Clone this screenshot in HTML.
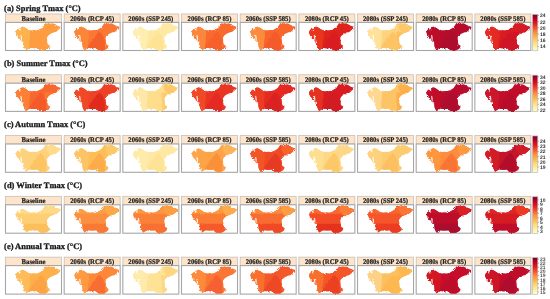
<!DOCTYPE html>
<html><head><meta charset="utf-8"><style>
html,body{margin:0;padding:0;background:#fff;width:550px;height:299px;overflow:hidden}
svg{display:block;text-rendering:geometricPrecision}
.t{font-family:"Liberation Serif","Times New Roman",serif;font-weight:bold;fill:#1a1a1a;stroke:#1a1a1a;stroke-width:0.3}
.h{font-family:"Liberation Serif","Times New Roman",serif;font-weight:bold;fill:#222;text-anchor:middle;stroke:#222;stroke-width:0.22}
.k{font-family:"Liberation Sans",Arial,sans-serif;font-weight:bold;fill:#333}
</style></head><body>
<svg width="550" height="299" viewBox="0 0 550 299">
<defs>
<filter id="rough" x="-5%" y="-5%" width="110%" height="110%"><feTurbulence type="fractalNoise" baseFrequency="0.9" numOctaves="1" seed="3"/><feDisplacementMap in="SourceGraphic" scale="3" xChannelSelector="R" yChannelSelector="G"/></filter>
<clipPath id="m"><polygon points="10.2,18.3 11.0,16.2 12.3,15.1 13.7,14.7 14.8,13.6 16.9,12.7 18.4,13.1 20.1,14.1 22.8,15.9 24.4,16.2 25.8,16.4 28.1,16.2 30.5,16.4 32.8,15.8 35.1,14.7 37.4,13.2 38.9,11.1 40.1,9.1 41.5,9.9 43.3,9.1 45.0,9.9 47.3,9.4 49.7,10.6 52.0,11.9 54.9,12.9 55.2,13.7 53.1,15.8 51.4,17.2 50.2,18.2 48.5,18.3 45.6,19.6 43.3,21.1 42.0,22.8 41.4,23.7 41.8,26.8 42.1,30.3 44.4,31.8 43.8,33.8 42.7,35.0 39.8,36.3 34.8,36.3 33.3,35.5 32.3,34.0 29.8,34.2 26.5,34.2 24.3,33.8 22.0,35.2 20.3,36.2 19.4,34.7 18.4,32.5 18.2,29.9 18.0,27.3 16.3,27.6 15.2,26.2 13.5,23.8 11.3,21.5 10.9,20.5 10.5,19.4"/></clipPath>
<linearGradient id="g" x1="0" y1="1" x2="0" y2="0">
<stop offset="0" stop-color="#FFFFCC"/><stop offset="0.125" stop-color="#FFEDA0"/><stop offset="0.25" stop-color="#FED976"/>
<stop offset="0.375" stop-color="#FEB24C"/><stop offset="0.5" stop-color="#FD8D3C"/><stop offset="0.625" stop-color="#FC4E2A"/>
<stop offset="0.75" stop-color="#E31A1C"/><stop offset="0.875" stop-color="#BD0026"/><stop offset="1" stop-color="#800026"/>
</linearGradient>
</defs>

<text class="t" x="4.1" y="10.50" font-size="8.45">(a) Spring Tmax (°C)</text>
<g transform="translate(5.50,13.95)">
<rect x="0" y="0" width="56.00" height="8.45" fill="#FDE4CA" stroke="#c6c0b8" stroke-width="0.8"/>
<rect x="0" y="8.45" width="56.00" height="28.10" fill="#fff" stroke="#a6a6a6" stroke-width="1.1"/>
<text class="h" x="28.00" y="6.95" font-size="7.1" textLength="23.82" lengthAdjust="spacingAndGlyphs">Baseline</text>
<g filter="url(#rough)"><g clip-path="url(#m)"><rect x="0" y="0" width="56.0" height="36.55" fill="#FD9C40"/><polygon points="0.0,0.0 24.5,0.0 24.5,20.0 23.0,40.0 0.0,40.0" fill="#FDB24E"/><polygon points="14.9,21.3 15.9,20.9 16.5,23.7 16.4,27.0 15.7,27.2 15.2,24.3" fill="#fff" fill-opacity="0.85"/><polygon points="13.0,14.0 14.8,13.8 15.0,15.8 13.6,16.4" fill="#fff"/></g></g>
</g>
<g transform="translate(64.17,13.95)">
<rect x="0" y="0" width="56.00" height="8.45" fill="#FDE4CA" stroke="#c6c0b8" stroke-width="0.8"/>
<rect x="0" y="8.45" width="56.00" height="28.10" fill="#fff" stroke="#a6a6a6" stroke-width="1.1"/>
<text class="h" x="28.00" y="6.95" font-size="7.1" textLength="43.92" lengthAdjust="spacingAndGlyphs">2060s (RCP 45)</text>
<g filter="url(#rough)"><g clip-path="url(#m)"><rect x="0" y="0" width="56.0" height="36.55" fill="#FA7834"/><polygon points="0.0,0.0 24.5,0.0 24.5,20.0 23.0,40.0 0.0,40.0" fill="#FB8638"/><polygon points="34.5,18.0 36.5,18.5 38.5,21.0 40.5,26.0 41.0,38.0 23.0,38.0 23.5,33.0 28.5,25.5" fill="#F3602C"/><polygon points="14.9,21.3 15.9,20.9 16.5,23.7 16.4,27.0 15.7,27.2 15.2,24.3" fill="#fff" fill-opacity="0.85"/><polygon points="13.0,14.0 14.8,13.8 15.0,15.8 13.6,16.4" fill="#fff"/></g></g>
</g>
<g transform="translate(122.84,13.95)">
<rect x="0" y="0" width="56.00" height="8.45" fill="#FDE4CA" stroke="#c6c0b8" stroke-width="0.8"/>
<rect x="0" y="8.45" width="56.00" height="28.10" fill="#fff" stroke="#a6a6a6" stroke-width="1.1"/>
<text class="h" x="28.00" y="6.95" font-size="7.1" textLength="45.05" lengthAdjust="spacingAndGlyphs">2060s (SSP 245)</text>
<g filter="url(#rough)"><g clip-path="url(#m)"><rect x="0" y="0" width="56.0" height="36.55" fill="#FEE9A2"/><polygon points="0.0,0.0 24.5,0.0 24.5,20.0 23.0,40.0 0.0,40.0" fill="#FEEEB2"/><polygon points="34.5,18.0 36.5,18.5 38.5,21.0 40.5,26.0 41.0,38.0 23.0,38.0 23.5,33.0 28.5,25.5" fill="#FEE394"/><polygon points="14.9,21.3 15.9,20.9 16.5,23.7 16.4,27.0 15.7,27.2 15.2,24.3" fill="#fff" fill-opacity="0.85"/><polygon points="13.0,14.0 14.8,13.8 15.0,15.8 13.6,16.4" fill="#fff"/></g></g>
</g>
<g transform="translate(181.51,13.95)">
<rect x="0" y="0" width="56.00" height="8.45" fill="#FDE4CA" stroke="#c6c0b8" stroke-width="0.8"/>
<rect x="0" y="8.45" width="56.00" height="28.10" fill="#fff" stroke="#a6a6a6" stroke-width="1.1"/>
<text class="h" x="28.00" y="6.95" font-size="7.1" textLength="43.92" lengthAdjust="spacingAndGlyphs">2060s (RCP 85)</text>
<g filter="url(#rough)"><g clip-path="url(#m)"><rect x="0" y="0" width="56.0" height="36.55" fill="#F96A2E"/><polygon points="0.0,0.0 24.5,0.0 24.5,20.0 23.0,40.0 0.0,40.0" fill="#FC863A"/><polygon points="34.5,18.0 36.5,18.5 38.5,21.0 40.5,26.0 41.0,38.0 23.0,38.0 23.5,33.0 28.5,25.5" fill="#F6602C"/><polygon points="14.9,21.3 15.9,20.9 16.5,23.7 16.4,27.0 15.7,27.2 15.2,24.3" fill="#fff" fill-opacity="0.85"/><polygon points="13.0,14.0 14.8,13.8 15.0,15.8 13.6,16.4" fill="#fff"/></g></g>
</g>
<g transform="translate(240.18,13.95)">
<rect x="0" y="0" width="56.00" height="8.45" fill="#FDE4CA" stroke="#c6c0b8" stroke-width="0.8"/>
<rect x="0" y="8.45" width="56.00" height="28.10" fill="#fff" stroke="#a6a6a6" stroke-width="1.1"/>
<text class="h" x="28.00" y="6.95" font-size="7.1" textLength="45.05" lengthAdjust="spacingAndGlyphs">2060s (SSP 585)</text>
<g filter="url(#rough)"><g clip-path="url(#m)"><rect x="0" y="0" width="56.0" height="36.55" fill="#F8662E"/><polygon points="0.0,0.0 24.5,0.0 24.5,20.0 23.0,40.0 0.0,40.0" fill="#FC8C3C"/><polygon points="34.5,18.0 36.5,18.5 38.5,21.0 40.5,26.0 41.0,38.0 23.0,38.0 23.5,33.0 28.5,25.5" fill="#F45A2A"/><polygon points="14.9,21.3 15.9,20.9 16.5,23.7 16.4,27.0 15.7,27.2 15.2,24.3" fill="#fff" fill-opacity="0.85"/><polygon points="13.0,14.0 14.8,13.8 15.0,15.8 13.6,16.4" fill="#fff"/></g></g>
</g>
<g transform="translate(298.85,13.95)">
<rect x="0" y="0" width="56.00" height="8.45" fill="#FDE4CA" stroke="#c6c0b8" stroke-width="0.8"/>
<rect x="0" y="8.45" width="56.00" height="28.10" fill="#fff" stroke="#a6a6a6" stroke-width="1.1"/>
<text class="h" x="28.00" y="6.95" font-size="7.1" textLength="43.92" lengthAdjust="spacingAndGlyphs">2080s (RCP 45)</text>
<g filter="url(#rough)"><g clip-path="url(#m)"><rect x="0" y="0" width="56.0" height="36.55" fill="#E0241E"/><polygon points="0.0,0.0 24.5,0.0 24.5,20.0 23.0,40.0 0.0,40.0" fill="#E8361F"/><polygon points="34.5,18.0 36.5,18.5 38.5,21.0 40.5,26.0 41.0,38.0 23.0,38.0 23.5,33.0 28.5,25.5" fill="#D81E20"/><polygon points="14.9,21.3 15.9,20.9 16.5,23.7 16.4,27.0 15.7,27.2 15.2,24.3" fill="#fff" fill-opacity="0.85"/><polygon points="13.0,14.0 14.8,13.8 15.0,15.8 13.6,16.4" fill="#fff"/></g></g>
</g>
<g transform="translate(357.52,13.95)">
<rect x="0" y="0" width="56.00" height="8.45" fill="#FDE4CA" stroke="#c6c0b8" stroke-width="0.8"/>
<rect x="0" y="8.45" width="56.00" height="28.10" fill="#fff" stroke="#a6a6a6" stroke-width="1.1"/>
<text class="h" x="28.00" y="6.95" font-size="7.1" textLength="45.05" lengthAdjust="spacingAndGlyphs">2080s (SSP 245)</text>
<g filter="url(#rough)"><g clip-path="url(#m)"><rect x="0" y="0" width="56.0" height="36.55" fill="#FED27E"/><polygon points="0.0,0.0 24.5,0.0 24.5,20.0 23.0,40.0 0.0,40.0" fill="#FEE29A"/><polygon points="38.5,18.0 60.0,18.0 60.0,40.0 40.0,40.0" fill="#FDC060"/><polygon points="34.5,18.0 36.5,18.5 38.5,21.0 40.5,26.0 41.0,38.0 23.0,38.0 23.5,33.0 28.5,25.5" fill="#FDC466"/><polygon points="40.0,0.0 60.0,0.0 60.0,19.0 44.0,19.0 41.0,14.0" fill="#FDC86A"/><polygon points="14.9,21.3 15.9,20.9 16.5,23.7 16.4,27.0 15.7,27.2 15.2,24.3" fill="#fff" fill-opacity="0.85"/><polygon points="13.0,14.0 14.8,13.8 15.0,15.8 13.6,16.4" fill="#fff"/></g></g>
</g>
<g transform="translate(416.19,13.95)">
<rect x="0" y="0" width="56.00" height="8.45" fill="#FDE4CA" stroke="#c6c0b8" stroke-width="0.8"/>
<rect x="0" y="8.45" width="56.00" height="28.10" fill="#fff" stroke="#a6a6a6" stroke-width="1.1"/>
<text class="h" x="28.00" y="6.95" font-size="7.1" textLength="43.92" lengthAdjust="spacingAndGlyphs">2080s (RCP 85)</text>
<g filter="url(#rough)"><g clip-path="url(#m)"><rect x="0" y="0" width="56.0" height="36.55" fill="#B50D2C"/><polygon points="0.0,0.0 24.5,0.0 24.5,20.0 23.0,40.0 0.0,40.0" fill="#BA0F2B"/><polygon points="34.5,18.0 36.5,18.5 38.5,21.0 40.5,26.0 41.0,38.0 23.0,38.0 23.5,33.0 28.5,25.5" fill="#AE0B2D"/><polygon points="14.9,21.3 15.9,20.9 16.5,23.7 16.4,27.0 15.7,27.2 15.2,24.3" fill="#fff" fill-opacity="0.85"/><polygon points="13.0,14.0 14.8,13.8 15.0,15.8 13.6,16.4" fill="#fff"/></g></g>
</g>
<g transform="translate(474.86,13.95)">
<rect x="0" y="0" width="56.00" height="8.45" fill="#FDE4CA" stroke="#c6c0b8" stroke-width="0.8"/>
<rect x="0" y="8.45" width="56.00" height="28.10" fill="#fff" stroke="#a6a6a6" stroke-width="1.1"/>
<text class="h" x="28.00" y="6.95" font-size="7.1" textLength="45.05" lengthAdjust="spacingAndGlyphs">2080s (SSP 585)</text>
<g filter="url(#rough)"><g clip-path="url(#m)"><rect x="0" y="0" width="56.0" height="36.55" fill="#DA1C21"/><polygon points="0.0,0.0 24.5,0.0 24.5,20.0 23.0,40.0 0.0,40.0" fill="#E42A20"/><polygon points="38.5,18.0 60.0,18.0 60.0,40.0 40.0,40.0" fill="#D01628"/><polygon points="34.5,18.0 36.5,18.5 38.5,21.0 40.5,26.0 41.0,38.0 23.0,38.0 23.5,33.0 28.5,25.5" fill="#D01628"/><polygon points="40.0,0.0 60.0,0.0 60.0,19.0 44.0,19.0 41.0,14.0" fill="#D41A26"/><polygon points="14.9,21.3 15.9,20.9 16.5,23.7 16.4,27.0 15.7,27.2 15.2,24.3" fill="#fff" fill-opacity="0.85"/><polygon points="13.0,14.0 14.8,13.8 15.0,15.8 13.6,16.4" fill="#fff"/></g></g>
</g>
<rect x="532.4" y="14.35" width="5.4" height="36.35" fill="url(#g)" stroke="#bdbdbd" stroke-width="0.7"/>
<line x1="537.6" x2="538.8" y1="15.40" y2="15.40" stroke="#333" stroke-width="0.4"/>
<text class="k" x="540" y="17.30" font-size="5">24</text>
<line x1="537.6" x2="538.8" y1="21.62" y2="21.62" stroke="#333" stroke-width="0.4"/>
<text class="k" x="540" y="23.52" font-size="5">22</text>
<line x1="537.6" x2="538.8" y1="27.84" y2="27.84" stroke="#333" stroke-width="0.4"/>
<text class="k" x="540" y="29.74" font-size="5">20</text>
<line x1="537.6" x2="538.8" y1="34.06" y2="34.06" stroke="#333" stroke-width="0.4"/>
<text class="k" x="540" y="35.96" font-size="5">18</text>
<line x1="537.6" x2="538.8" y1="40.28" y2="40.28" stroke="#333" stroke-width="0.4"/>
<text class="k" x="540" y="42.18" font-size="5">16</text>
<line x1="537.6" x2="538.8" y1="46.50" y2="46.50" stroke="#333" stroke-width="0.4"/>
<text class="k" x="540" y="48.40" font-size="5">14</text>
<text class="t" x="4.1" y="66.20" font-size="8.45">(b) Summer Tmax (°C)</text>
<g transform="translate(5.50,74.75)">
<rect x="0" y="0" width="56.00" height="8.45" fill="#FDE4CA" stroke="#c6c0b8" stroke-width="0.8"/>
<rect x="0" y="8.45" width="56.00" height="28.20" fill="#fff" stroke="#a6a6a6" stroke-width="1.1"/>
<text class="h" x="28.00" y="6.95" font-size="7.1" textLength="23.82" lengthAdjust="spacingAndGlyphs">Baseline</text>
<g filter="url(#rough)"><g clip-path="url(#m)"><rect x="0" y="0" width="56.0" height="36.650000000000006" fill="#F8682E"/><polygon points="0.0,0.0 24.5,0.0 24.5,20.0 23.0,40.0 0.0,40.0" fill="#FB8036"/><polygon points="38.5,18.0 60.0,18.0 60.0,40.0 40.0,40.0" fill="#FA7634"/><polygon points="34.5,18.0 36.5,18.5 38.5,21.0 40.5,26.0 41.0,38.0 23.0,38.0 23.5,33.0 28.5,25.5" fill="#F45A2A"/><polygon points="14.9,21.3 15.9,20.9 16.5,23.7 16.4,27.0 15.7,27.2 15.2,24.3" fill="#fff" fill-opacity="0.85"/><polygon points="13.0,14.0 14.8,13.8 15.0,15.8 13.6,16.4" fill="#fff"/></g></g>
</g>
<g transform="translate(64.17,74.75)">
<rect x="0" y="0" width="56.00" height="8.45" fill="#FDE4CA" stroke="#c6c0b8" stroke-width="0.8"/>
<rect x="0" y="8.45" width="56.00" height="28.20" fill="#fff" stroke="#a6a6a6" stroke-width="1.1"/>
<text class="h" x="28.00" y="6.95" font-size="7.1" textLength="43.92" lengthAdjust="spacingAndGlyphs">2060s (RCP 45)</text>
<g filter="url(#rough)"><g clip-path="url(#m)"><rect x="0" y="0" width="56.0" height="36.650000000000006" fill="#EE4226"/><polygon points="0.0,0.0 24.5,0.0 24.5,20.0 23.0,40.0 0.0,40.0" fill="#F04A28"/><polygon points="34.5,18.0 36.5,18.5 38.5,21.0 40.5,26.0 41.0,38.0 23.0,38.0 23.5,33.0 28.5,25.5" fill="#E02C1F"/><polygon points="14.9,21.3 15.9,20.9 16.5,23.7 16.4,27.0 15.7,27.2 15.2,24.3" fill="#fff" fill-opacity="0.85"/><polygon points="13.0,14.0 14.8,13.8 15.0,15.8 13.6,16.4" fill="#fff"/></g></g>
</g>
<g transform="translate(122.84,74.75)">
<rect x="0" y="0" width="56.00" height="8.45" fill="#FDE4CA" stroke="#c6c0b8" stroke-width="0.8"/>
<rect x="0" y="8.45" width="56.00" height="28.20" fill="#fff" stroke="#a6a6a6" stroke-width="1.1"/>
<text class="h" x="28.00" y="6.95" font-size="7.1" textLength="45.05" lengthAdjust="spacingAndGlyphs">2060s (SSP 245)</text>
<g filter="url(#rough)"><g clip-path="url(#m)"><rect x="0" y="0" width="56.0" height="36.650000000000006" fill="#FEDD8C"/><polygon points="0.0,0.0 24.5,0.0 24.5,20.0 23.0,40.0 0.0,40.0" fill="#FEE8A8"/><polygon points="38.5,18.0 60.0,18.0 60.0,40.0 40.0,40.0" fill="#FDCB70"/><polygon points="40.0,0.0 60.0,0.0 60.0,19.0 44.0,19.0 41.0,14.0" fill="#FDC968"/><polygon points="14.9,21.3 15.9,20.9 16.5,23.7 16.4,27.0 15.7,27.2 15.2,24.3" fill="#fff" fill-opacity="0.85"/><polygon points="13.0,14.0 14.8,13.8 15.0,15.8 13.6,16.4" fill="#fff"/></g></g>
</g>
<g transform="translate(181.51,74.75)">
<rect x="0" y="0" width="56.00" height="8.45" fill="#FDE4CA" stroke="#c6c0b8" stroke-width="0.8"/>
<rect x="0" y="8.45" width="56.00" height="28.20" fill="#fff" stroke="#a6a6a6" stroke-width="1.1"/>
<text class="h" x="28.00" y="6.95" font-size="7.1" textLength="43.92" lengthAdjust="spacingAndGlyphs">2060s (RCP 85)</text>
<g filter="url(#rough)"><g clip-path="url(#m)"><rect x="0" y="0" width="56.0" height="36.650000000000006" fill="#EA3424"/><polygon points="0.0,0.0 24.5,0.0 24.5,20.0 23.0,40.0 0.0,40.0" fill="#F04A28"/><polygon points="34.5,18.0 36.5,18.5 38.5,21.0 40.5,26.0 41.0,38.0 23.0,38.0 23.5,33.0 28.5,25.5" fill="#E42C21"/><polygon points="14.9,21.3 15.9,20.9 16.5,23.7 16.4,27.0 15.7,27.2 15.2,24.3" fill="#fff" fill-opacity="0.85"/><polygon points="13.0,14.0 14.8,13.8 15.0,15.8 13.6,16.4" fill="#fff"/></g></g>
</g>
<g transform="translate(240.18,74.75)">
<rect x="0" y="0" width="56.00" height="8.45" fill="#FDE4CA" stroke="#c6c0b8" stroke-width="0.8"/>
<rect x="0" y="8.45" width="56.00" height="28.20" fill="#fff" stroke="#a6a6a6" stroke-width="1.1"/>
<text class="h" x="28.00" y="6.95" font-size="7.1" textLength="45.05" lengthAdjust="spacingAndGlyphs">2060s (SSP 585)</text>
<g filter="url(#rough)"><g clip-path="url(#m)"><rect x="0" y="0" width="56.0" height="36.650000000000006" fill="#E42A20"/><polygon points="0.0,0.0 24.5,0.0 24.5,20.0 23.0,40.0 0.0,40.0" fill="#EC3E24"/><polygon points="34.5,18.0 36.5,18.5 38.5,21.0 40.5,26.0 41.0,38.0 23.0,38.0 23.5,33.0 28.5,25.5" fill="#DA2220"/><polygon points="14.9,21.3 15.9,20.9 16.5,23.7 16.4,27.0 15.7,27.2 15.2,24.3" fill="#fff" fill-opacity="0.85"/><polygon points="13.0,14.0 14.8,13.8 15.0,15.8 13.6,16.4" fill="#fff"/></g></g>
</g>
<g transform="translate(298.85,74.75)">
<rect x="0" y="0" width="56.00" height="8.45" fill="#FDE4CA" stroke="#c6c0b8" stroke-width="0.8"/>
<rect x="0" y="8.45" width="56.00" height="28.20" fill="#fff" stroke="#a6a6a6" stroke-width="1.1"/>
<text class="h" x="28.00" y="6.95" font-size="7.1" textLength="43.92" lengthAdjust="spacingAndGlyphs">2080s (RCP 45)</text>
<g filter="url(#rough)"><g clip-path="url(#m)"><rect x="0" y="0" width="56.0" height="36.650000000000006" fill="#D81E22"/><polygon points="0.0,0.0 24.5,0.0 24.5,20.0 23.0,40.0 0.0,40.0" fill="#E43020"/><polygon points="34.5,18.0 36.5,18.5 38.5,21.0 40.5,26.0 41.0,38.0 23.0,38.0 23.5,33.0 28.5,25.5" fill="#D01A24"/><polygon points="14.9,21.3 15.9,20.9 16.5,23.7 16.4,27.0 15.7,27.2 15.2,24.3" fill="#fff" fill-opacity="0.85"/><polygon points="13.0,14.0 14.8,13.8 15.0,15.8 13.6,16.4" fill="#fff"/></g></g>
</g>
<g transform="translate(357.52,74.75)">
<rect x="0" y="0" width="56.00" height="8.45" fill="#FDE4CA" stroke="#c6c0b8" stroke-width="0.8"/>
<rect x="0" y="8.45" width="56.00" height="28.20" fill="#fff" stroke="#a6a6a6" stroke-width="1.1"/>
<text class="h" x="28.00" y="6.95" font-size="7.1" textLength="45.05" lengthAdjust="spacingAndGlyphs">2080s (SSP 245)</text>
<g filter="url(#rough)"><g clip-path="url(#m)"><rect x="0" y="0" width="56.0" height="36.650000000000006" fill="#FDC466"/><polygon points="0.0,0.0 24.5,0.0 24.5,20.0 23.0,40.0 0.0,40.0" fill="#FED890"/><polygon points="38.5,18.0 60.0,18.0 60.0,40.0 40.0,40.0" fill="#FDB04A"/><polygon points="40.0,0.0 60.0,0.0 60.0,19.0 44.0,19.0 41.0,14.0" fill="#FDB048"/><polygon points="14.9,21.3 15.9,20.9 16.5,23.7 16.4,27.0 15.7,27.2 15.2,24.3" fill="#fff" fill-opacity="0.85"/><polygon points="13.0,14.0 14.8,13.8 15.0,15.8 13.6,16.4" fill="#fff"/></g></g>
</g>
<g transform="translate(416.19,74.75)">
<rect x="0" y="0" width="56.00" height="8.45" fill="#FDE4CA" stroke="#c6c0b8" stroke-width="0.8"/>
<rect x="0" y="8.45" width="56.00" height="28.20" fill="#fff" stroke="#a6a6a6" stroke-width="1.1"/>
<text class="h" x="28.00" y="6.95" font-size="7.1" textLength="43.92" lengthAdjust="spacingAndGlyphs">2080s (RCP 85)</text>
<g filter="url(#rough)"><g clip-path="url(#m)"><rect x="0" y="0" width="56.0" height="36.650000000000006" fill="#B80B2D"/><polygon points="0.0,0.0 24.5,0.0 24.5,20.0 23.0,40.0 0.0,40.0" fill="#C20F2B"/><polygon points="34.5,18.0 36.5,18.5 38.5,21.0 40.5,26.0 41.0,38.0 23.0,38.0 23.5,33.0 28.5,25.5" fill="#B00A2E"/><polygon points="14.9,21.3 15.9,20.9 16.5,23.7 16.4,27.0 15.7,27.2 15.2,24.3" fill="#fff" fill-opacity="0.85"/><polygon points="13.0,14.0 14.8,13.8 15.0,15.8 13.6,16.4" fill="#fff"/></g></g>
</g>
<g transform="translate(474.86,74.75)">
<rect x="0" y="0" width="56.00" height="8.45" fill="#FDE4CA" stroke="#c6c0b8" stroke-width="0.8"/>
<rect x="0" y="8.45" width="56.00" height="28.20" fill="#fff" stroke="#a6a6a6" stroke-width="1.1"/>
<text class="h" x="28.00" y="6.95" font-size="7.1" textLength="45.05" lengthAdjust="spacingAndGlyphs">2080s (SSP 585)</text>
<g filter="url(#rough)"><g clip-path="url(#m)"><rect x="0" y="0" width="56.0" height="36.650000000000006" fill="#C20F2B"/><polygon points="0.0,0.0 24.5,0.0 24.5,20.0 23.0,40.0 0.0,40.0" fill="#CC132A"/><polygon points="34.5,18.0 36.5,18.5 38.5,21.0 40.5,26.0 41.0,38.0 23.0,38.0 23.5,33.0 28.5,25.5" fill="#B80C2C"/><polygon points="14.9,21.3 15.9,20.9 16.5,23.7 16.4,27.0 15.7,27.2 15.2,24.3" fill="#fff" fill-opacity="0.85"/><polygon points="13.0,14.0 14.8,13.8 15.0,15.8 13.6,16.4" fill="#fff"/></g></g>
</g>
<rect x="532.4" y="75.15" width="5.4" height="36.45" fill="url(#g)" stroke="#bdbdbd" stroke-width="0.7"/>
<line x1="537.6" x2="538.8" y1="76.90" y2="76.90" stroke="#333" stroke-width="0.4"/>
<text class="k" x="540" y="78.80" font-size="5">34</text>
<line x1="537.6" x2="538.8" y1="82.38" y2="82.38" stroke="#333" stroke-width="0.4"/>
<text class="k" x="540" y="84.28" font-size="5">32</text>
<line x1="537.6" x2="538.8" y1="87.87" y2="87.87" stroke="#333" stroke-width="0.4"/>
<text class="k" x="540" y="89.77" font-size="5">30</text>
<line x1="537.6" x2="538.8" y1="93.35" y2="93.35" stroke="#333" stroke-width="0.4"/>
<text class="k" x="540" y="95.25" font-size="5">28</text>
<line x1="537.6" x2="538.8" y1="98.83" y2="98.83" stroke="#333" stroke-width="0.4"/>
<text class="k" x="540" y="100.73" font-size="5">26</text>
<line x1="537.6" x2="538.8" y1="104.32" y2="104.32" stroke="#333" stroke-width="0.4"/>
<text class="k" x="540" y="106.22" font-size="5">24</text>
<line x1="537.6" x2="538.8" y1="109.80" y2="109.80" stroke="#333" stroke-width="0.4"/>
<text class="k" x="540" y="111.70" font-size="5">22</text>
<text class="t" x="4.1" y="127.40" font-size="8.45">(c) Autumn Tmax (°C)</text>
<g transform="translate(5.50,135.55)">
<rect x="0" y="0" width="56.00" height="8.45" fill="#FDE4CA" stroke="#c6c0b8" stroke-width="0.8"/>
<rect x="0" y="8.45" width="56.00" height="28.30" fill="#fff" stroke="#a6a6a6" stroke-width="1.1"/>
<text class="h" x="28.00" y="6.95" font-size="7.1" textLength="23.82" lengthAdjust="spacingAndGlyphs">Baseline</text>
<g filter="url(#rough)"><g clip-path="url(#m)"><rect x="0" y="0" width="56.0" height="36.75000000000003" fill="#FED27C"/><polygon points="34.5,18.0 36.5,18.5 38.5,21.0 40.5,26.0 41.0,38.0 23.0,38.0 23.5,33.0 28.5,25.5" fill="#FDC462"/><polygon points="40.0,0.0 60.0,0.0 60.0,19.0 44.0,19.0 41.0,14.0" fill="#FEDC8C"/><polygon points="14.9,21.3 15.9,20.9 16.5,23.7 16.4,27.0 15.7,27.2 15.2,24.3" fill="#fff" fill-opacity="0.85"/><polygon points="13.0,14.0 14.8,13.8 15.0,15.8 13.6,16.4" fill="#fff"/></g></g>
</g>
<g transform="translate(64.17,135.55)">
<rect x="0" y="0" width="56.00" height="8.45" fill="#FDE4CA" stroke="#c6c0b8" stroke-width="0.8"/>
<rect x="0" y="8.45" width="56.00" height="28.30" fill="#fff" stroke="#a6a6a6" stroke-width="1.1"/>
<text class="h" x="28.00" y="6.95" font-size="7.1" textLength="43.92" lengthAdjust="spacingAndGlyphs">2060s (RCP 45)</text>
<g filter="url(#rough)"><g clip-path="url(#m)"><rect x="0" y="0" width="56.0" height="36.75000000000003" fill="#FDBE5A"/><polygon points="0.0,0.0 24.5,0.0 24.5,20.0 23.0,40.0 0.0,40.0" fill="#FDC466"/><polygon points="34.5,18.0 36.5,18.5 38.5,21.0 40.5,26.0 41.0,38.0 23.0,38.0 23.5,33.0 28.5,25.5" fill="#FDAC48"/><polygon points="40.0,0.0 60.0,0.0 60.0,19.0 44.0,19.0 41.0,14.0" fill="#FDC868"/><polygon points="14.9,21.3 15.9,20.9 16.5,23.7 16.4,27.0 15.7,27.2 15.2,24.3" fill="#fff" fill-opacity="0.85"/><polygon points="13.0,14.0 14.8,13.8 15.0,15.8 13.6,16.4" fill="#fff"/></g></g>
</g>
<g transform="translate(122.84,135.55)">
<rect x="0" y="0" width="56.00" height="8.45" fill="#FDE4CA" stroke="#c6c0b8" stroke-width="0.8"/>
<rect x="0" y="8.45" width="56.00" height="28.30" fill="#fff" stroke="#a6a6a6" stroke-width="1.1"/>
<text class="h" x="28.00" y="6.95" font-size="7.1" textLength="45.05" lengthAdjust="spacingAndGlyphs">2060s (SSP 245)</text>
<g filter="url(#rough)"><g clip-path="url(#m)"><rect x="0" y="0" width="56.0" height="36.75000000000003" fill="#FEE8A4"/><polygon points="0.0,0.0 24.5,0.0 24.5,20.0 23.0,40.0 0.0,40.0" fill="#FEEBAA"/><polygon points="34.5,18.0 36.5,18.5 38.5,21.0 40.5,26.0 41.0,38.0 23.0,38.0 23.5,33.0 28.5,25.5" fill="#FEE296"/><polygon points="14.9,21.3 15.9,20.9 16.5,23.7 16.4,27.0 15.7,27.2 15.2,24.3" fill="#fff" fill-opacity="0.85"/><polygon points="13.0,14.0 14.8,13.8 15.0,15.8 13.6,16.4" fill="#fff"/></g></g>
</g>
<g transform="translate(181.51,135.55)">
<rect x="0" y="0" width="56.00" height="8.45" fill="#FDE4CA" stroke="#c6c0b8" stroke-width="0.8"/>
<rect x="0" y="8.45" width="56.00" height="28.30" fill="#fff" stroke="#a6a6a6" stroke-width="1.1"/>
<text class="h" x="28.00" y="6.95" font-size="7.1" textLength="43.92" lengthAdjust="spacingAndGlyphs">2060s (RCP 85)</text>
<g filter="url(#rough)"><g clip-path="url(#m)"><rect x="0" y="0" width="56.0" height="36.75000000000003" fill="#FDA448"/><polygon points="34.5,18.0 36.5,18.5 38.5,21.0 40.5,26.0 41.0,38.0 23.0,38.0 23.5,33.0 28.5,25.5" fill="#FC9038"/><polygon points="40.0,0.0 60.0,0.0 60.0,19.0 44.0,19.0 41.0,14.0" fill="#FDB458"/><polygon points="14.9,21.3 15.9,20.9 16.5,23.7 16.4,27.0 15.7,27.2 15.2,24.3" fill="#fff" fill-opacity="0.85"/><polygon points="13.0,14.0 14.8,13.8 15.0,15.8 13.6,16.4" fill="#fff"/></g></g>
</g>
<g transform="translate(240.18,135.55)">
<rect x="0" y="0" width="56.00" height="8.45" fill="#FDE4CA" stroke="#c6c0b8" stroke-width="0.8"/>
<rect x="0" y="8.45" width="56.00" height="28.30" fill="#fff" stroke="#a6a6a6" stroke-width="1.1"/>
<text class="h" x="28.00" y="6.95" font-size="7.1" textLength="45.05" lengthAdjust="spacingAndGlyphs">2060s (SSP 585)</text>
<g filter="url(#rough)"><g clip-path="url(#m)"><rect x="0" y="0" width="56.0" height="36.75000000000003" fill="#F04A26"/><polygon points="0.0,0.0 24.5,0.0 24.5,20.0 23.0,40.0 0.0,40.0" fill="#F35628"/><polygon points="34.5,18.0 36.5,18.5 38.5,21.0 40.5,26.0 41.0,38.0 23.0,38.0 23.5,33.0 28.5,25.5" fill="#E63A22"/><polygon points="40.0,0.0 60.0,0.0 60.0,19.0 44.0,19.0 41.0,14.0" fill="#F6622C"/><polygon points="14.9,21.3 15.9,20.9 16.5,23.7 16.4,27.0 15.7,27.2 15.2,24.3" fill="#fff" fill-opacity="0.85"/><polygon points="13.0,14.0 14.8,13.8 15.0,15.8 13.6,16.4" fill="#fff"/></g></g>
</g>
<g transform="translate(298.85,135.55)">
<rect x="0" y="0" width="56.00" height="8.45" fill="#FDE4CA" stroke="#c6c0b8" stroke-width="0.8"/>
<rect x="0" y="8.45" width="56.00" height="28.30" fill="#fff" stroke="#a6a6a6" stroke-width="1.1"/>
<text class="h" x="28.00" y="6.95" font-size="7.1" textLength="43.92" lengthAdjust="spacingAndGlyphs">2080s (RCP 45)</text>
<g filter="url(#rough)"><g clip-path="url(#m)"><rect x="0" y="0" width="56.0" height="36.75000000000003" fill="#FED886"/><polygon points="0.0,0.0 24.5,0.0 24.5,20.0 23.0,40.0 0.0,40.0" fill="#FEDE90"/><polygon points="34.5,18.0 36.5,18.5 38.5,21.0 40.5,26.0 41.0,38.0 23.0,38.0 23.5,33.0 28.5,25.5" fill="#FDC868"/><polygon points="14.9,21.3 15.9,20.9 16.5,23.7 16.4,27.0 15.7,27.2 15.2,24.3" fill="#fff" fill-opacity="0.85"/><polygon points="13.0,14.0 14.8,13.8 15.0,15.8 13.6,16.4" fill="#fff"/></g></g>
</g>
<g transform="translate(357.52,135.55)">
<rect x="0" y="0" width="56.00" height="8.45" fill="#FDE4CA" stroke="#c6c0b8" stroke-width="0.8"/>
<rect x="0" y="8.45" width="56.00" height="28.30" fill="#fff" stroke="#a6a6a6" stroke-width="1.1"/>
<text class="h" x="28.00" y="6.95" font-size="7.1" textLength="45.05" lengthAdjust="spacingAndGlyphs">2080s (SSP 245)</text>
<g filter="url(#rough)"><g clip-path="url(#m)"><rect x="0" y="0" width="56.0" height="36.75000000000003" fill="#FECC70"/><polygon points="0.0,0.0 24.5,0.0 24.5,20.0 23.0,40.0 0.0,40.0" fill="#FED27C"/><polygon points="34.5,18.0 36.5,18.5 38.5,21.0 40.5,26.0 41.0,38.0 23.0,38.0 23.5,33.0 28.5,25.5" fill="#FDC060"/><polygon points="14.9,21.3 15.9,20.9 16.5,23.7 16.4,27.0 15.7,27.2 15.2,24.3" fill="#fff" fill-opacity="0.85"/><polygon points="13.0,14.0 14.8,13.8 15.0,15.8 13.6,16.4" fill="#fff"/></g></g>
</g>
<g transform="translate(416.19,135.55)">
<rect x="0" y="0" width="56.00" height="8.45" fill="#FDE4CA" stroke="#c6c0b8" stroke-width="0.8"/>
<rect x="0" y="8.45" width="56.00" height="28.30" fill="#fff" stroke="#a6a6a6" stroke-width="1.1"/>
<text class="h" x="28.00" y="6.95" font-size="7.1" textLength="43.92" lengthAdjust="spacingAndGlyphs">2080s (RCP 85)</text>
<g filter="url(#rough)"><g clip-path="url(#m)"><rect x="0" y="0" width="56.0" height="36.75000000000003" fill="#FD8C3C"/><polygon points="0.0,0.0 24.5,0.0 24.5,20.0 23.0,40.0 0.0,40.0" fill="#FD963E"/><polygon points="34.5,18.0 36.5,18.5 38.5,21.0 40.5,26.0 41.0,38.0 23.0,38.0 23.5,33.0 28.5,25.5" fill="#FA7434"/><polygon points="40.0,0.0 60.0,0.0 60.0,19.0 44.0,19.0 41.0,14.0" fill="#FD9A40"/><polygon points="14.9,21.3 15.9,20.9 16.5,23.7 16.4,27.0 15.7,27.2 15.2,24.3" fill="#fff" fill-opacity="0.85"/><polygon points="13.0,14.0 14.8,13.8 15.0,15.8 13.6,16.4" fill="#fff"/></g></g>
</g>
<g transform="translate(474.86,135.55)">
<rect x="0" y="0" width="56.00" height="8.45" fill="#FDE4CA" stroke="#c6c0b8" stroke-width="0.8"/>
<rect x="0" y="8.45" width="56.00" height="28.30" fill="#fff" stroke="#a6a6a6" stroke-width="1.1"/>
<text class="h" x="28.00" y="6.95" font-size="7.1" textLength="45.05" lengthAdjust="spacingAndGlyphs">2080s (SSP 585)</text>
<g filter="url(#rough)"><g clip-path="url(#m)"><rect x="0" y="0" width="56.0" height="36.75000000000003" fill="#C4122A"/><polygon points="0.0,0.0 24.5,0.0 24.5,20.0 23.0,40.0 0.0,40.0" fill="#D21A26"/><polygon points="34.5,18.0 36.5,18.5 38.5,21.0 40.5,26.0 41.0,38.0 23.0,38.0 23.5,33.0 28.5,25.5" fill="#B40C2C"/><polygon points="40.0,0.0 60.0,0.0 60.0,19.0 44.0,19.0 41.0,14.0" fill="#D01A26"/><polygon points="14.9,21.3 15.9,20.9 16.5,23.7 16.4,27.0 15.7,27.2 15.2,24.3" fill="#fff" fill-opacity="0.85"/><polygon points="13.0,14.0 14.8,13.8 15.0,15.8 13.6,16.4" fill="#fff"/></g></g>
</g>
<rect x="532.4" y="135.95" width="5.4" height="36.55" fill="url(#g)" stroke="#bdbdbd" stroke-width="0.7"/>
<line x1="537.6" x2="538.8" y1="141.20" y2="141.20" stroke="#333" stroke-width="0.4"/>
<text class="k" x="540" y="143.10" font-size="5">24</text>
<line x1="537.6" x2="538.8" y1="146.38" y2="146.38" stroke="#333" stroke-width="0.4"/>
<text class="k" x="540" y="148.28" font-size="5">23</text>
<line x1="537.6" x2="538.8" y1="151.56" y2="151.56" stroke="#333" stroke-width="0.4"/>
<text class="k" x="540" y="153.46" font-size="5">22</text>
<line x1="537.6" x2="538.8" y1="156.74" y2="156.74" stroke="#333" stroke-width="0.4"/>
<text class="k" x="540" y="158.64" font-size="5">21</text>
<line x1="537.6" x2="538.8" y1="161.92" y2="161.92" stroke="#333" stroke-width="0.4"/>
<text class="k" x="540" y="163.82" font-size="5">20</text>
<line x1="537.6" x2="538.8" y1="167.10" y2="167.10" stroke="#333" stroke-width="0.4"/>
<text class="k" x="540" y="169.00" font-size="5">19</text>
<text class="t" x="4.1" y="188.20" font-size="8.45">(d) Winter Tmax (°C)</text>
<g transform="translate(5.50,196.35)">
<rect x="0" y="0" width="56.00" height="8.45" fill="#FDE4CA" stroke="#c6c0b8" stroke-width="0.8"/>
<rect x="0" y="8.45" width="56.00" height="28.40" fill="#fff" stroke="#a6a6a6" stroke-width="1.1"/>
<text class="h" x="28.00" y="6.95" font-size="7.1" textLength="23.82" lengthAdjust="spacingAndGlyphs">Baseline</text>
<g filter="url(#rough)"><g clip-path="url(#m)"><rect x="0" y="0" width="56.0" height="36.85000000000002" fill="#FECE74"/><polygon points="0.0,0.0 60.0,0.0 60.0,17.5 0.0,17.5" fill="#FEDA88"/><polygon points="0.0,27.5 60.0,27.5 60.0,40.0 0.0,40.0" fill="#FDBE5C"/><polygon points="14.9,21.3 15.9,20.9 16.5,23.7 16.4,27.0 15.7,27.2 15.2,24.3" fill="#fff" fill-opacity="0.85"/><polygon points="13.0,14.0 14.8,13.8 15.0,15.8 13.6,16.4" fill="#fff"/></g></g>
</g>
<g transform="translate(64.17,196.35)">
<rect x="0" y="0" width="56.00" height="8.45" fill="#FDE4CA" stroke="#c6c0b8" stroke-width="0.8"/>
<rect x="0" y="8.45" width="56.00" height="28.40" fill="#fff" stroke="#a6a6a6" stroke-width="1.1"/>
<text class="h" x="28.00" y="6.95" font-size="7.1" textLength="43.92" lengthAdjust="spacingAndGlyphs">2060s (RCP 45)</text>
<g filter="url(#rough)"><g clip-path="url(#m)"><rect x="0" y="0" width="56.0" height="36.85000000000002" fill="#FC9040"/><polygon points="0.0,0.0 60.0,0.0 60.0,17.5 0.0,17.5" fill="#FD9E44"/><polygon points="0.0,27.5 60.0,27.5 60.0,40.0 0.0,40.0" fill="#F87A34"/><polygon points="40.0,0.0 60.0,0.0 60.0,19.0 44.0,19.0 41.0,14.0" fill="#FDA846"/><polygon points="14.9,21.3 15.9,20.9 16.5,23.7 16.4,27.0 15.7,27.2 15.2,24.3" fill="#fff" fill-opacity="0.85"/><polygon points="13.0,14.0 14.8,13.8 15.0,15.8 13.6,16.4" fill="#fff"/></g></g>
</g>
<g transform="translate(122.84,196.35)">
<rect x="0" y="0" width="56.00" height="8.45" fill="#FDE4CA" stroke="#c6c0b8" stroke-width="0.8"/>
<rect x="0" y="8.45" width="56.00" height="28.40" fill="#fff" stroke="#a6a6a6" stroke-width="1.1"/>
<text class="h" x="28.00" y="6.95" font-size="7.1" textLength="45.05" lengthAdjust="spacingAndGlyphs">2060s (SSP 245)</text>
<g filter="url(#rough)"><g clip-path="url(#m)"><rect x="0" y="0" width="56.0" height="36.85000000000002" fill="#FB8038"/><polygon points="0.0,0.0 60.0,0.0 60.0,17.5 0.0,17.5" fill="#FD9640"/><polygon points="0.0,27.5 60.0,27.5 60.0,40.0 0.0,40.0" fill="#F87030"/><polygon points="40.0,0.0 60.0,0.0 60.0,19.0 44.0,19.0 41.0,14.0" fill="#FD9E42"/><polygon points="14.9,21.3 15.9,20.9 16.5,23.7 16.4,27.0 15.7,27.2 15.2,24.3" fill="#fff" fill-opacity="0.85"/><polygon points="13.0,14.0 14.8,13.8 15.0,15.8 13.6,16.4" fill="#fff"/></g></g>
</g>
<g transform="translate(181.51,196.35)">
<rect x="0" y="0" width="56.00" height="8.45" fill="#FDE4CA" stroke="#c6c0b8" stroke-width="0.8"/>
<rect x="0" y="8.45" width="56.00" height="28.40" fill="#fff" stroke="#a6a6a6" stroke-width="1.1"/>
<text class="h" x="28.00" y="6.95" font-size="7.1" textLength="43.92" lengthAdjust="spacingAndGlyphs">2060s (RCP 85)</text>
<g filter="url(#rough)"><g clip-path="url(#m)"><rect x="0" y="0" width="56.0" height="36.85000000000002" fill="#FB7C36"/><polygon points="0.0,0.0 60.0,0.0 60.0,17.5 0.0,17.5" fill="#FD9A40"/><polygon points="0.0,27.5 60.0,27.5 60.0,40.0 0.0,40.0" fill="#F65A2C"/><polygon points="40.0,0.0 60.0,0.0 60.0,19.0 44.0,19.0 41.0,14.0" fill="#FDAA4C"/><polygon points="14.9,21.3 15.9,20.9 16.5,23.7 16.4,27.0 15.7,27.2 15.2,24.3" fill="#fff" fill-opacity="0.85"/><polygon points="13.0,14.0 14.8,13.8 15.0,15.8 13.6,16.4" fill="#fff"/></g></g>
</g>
<g transform="translate(240.18,196.35)">
<rect x="0" y="0" width="56.00" height="8.45" fill="#FDE4CA" stroke="#c6c0b8" stroke-width="0.8"/>
<rect x="0" y="8.45" width="56.00" height="28.40" fill="#fff" stroke="#a6a6a6" stroke-width="1.1"/>
<text class="h" x="28.00" y="6.95" font-size="7.1" textLength="45.05" lengthAdjust="spacingAndGlyphs">2060s (SSP 585)</text>
<g filter="url(#rough)"><g clip-path="url(#m)"><rect x="0" y="0" width="56.0" height="36.85000000000002" fill="#F86C30"/><polygon points="0.0,0.0 60.0,0.0 60.0,17.5 0.0,17.5" fill="#FC8A3A"/><polygon points="0.0,27.5 60.0,27.5 60.0,40.0 0.0,40.0" fill="#F04A28"/><polygon points="40.0,0.0 60.0,0.0 60.0,19.0 44.0,19.0 41.0,14.0" fill="#FD9E42"/><polygon points="14.9,21.3 15.9,20.9 16.5,23.7 16.4,27.0 15.7,27.2 15.2,24.3" fill="#fff" fill-opacity="0.85"/><polygon points="13.0,14.0 14.8,13.8 15.0,15.8 13.6,16.4" fill="#fff"/></g></g>
</g>
<g transform="translate(298.85,196.35)">
<rect x="0" y="0" width="56.00" height="8.45" fill="#FDE4CA" stroke="#c6c0b8" stroke-width="0.8"/>
<rect x="0" y="8.45" width="56.00" height="28.40" fill="#fff" stroke="#a6a6a6" stroke-width="1.1"/>
<text class="h" x="28.00" y="6.95" font-size="7.1" textLength="43.92" lengthAdjust="spacingAndGlyphs">2080s (RCP 45)</text>
<g filter="url(#rough)"><g clip-path="url(#m)"><rect x="0" y="0" width="56.0" height="36.85000000000002" fill="#F24E28"/><polygon points="0.0,0.0 60.0,0.0 60.0,17.5 0.0,17.5" fill="#F86A30"/><polygon points="0.0,27.5 60.0,27.5 60.0,40.0 0.0,40.0" fill="#E5321F"/><polygon points="40.0,0.0 60.0,0.0 60.0,19.0 44.0,19.0 41.0,14.0" fill="#FA7E36"/><polygon points="14.9,21.3 15.9,20.9 16.5,23.7 16.4,27.0 15.7,27.2 15.2,24.3" fill="#fff" fill-opacity="0.85"/><polygon points="13.0,14.0 14.8,13.8 15.0,15.8 13.6,16.4" fill="#fff"/></g></g>
</g>
<g transform="translate(357.52,196.35)">
<rect x="0" y="0" width="56.00" height="8.45" fill="#FDE4CA" stroke="#c6c0b8" stroke-width="0.8"/>
<rect x="0" y="8.45" width="56.00" height="28.40" fill="#fff" stroke="#a6a6a6" stroke-width="1.1"/>
<text class="h" x="28.00" y="6.95" font-size="7.1" textLength="45.05" lengthAdjust="spacingAndGlyphs">2080s (SSP 245)</text>
<g filter="url(#rough)"><g clip-path="url(#m)"><rect x="0" y="0" width="56.0" height="36.85000000000002" fill="#F4552A"/><polygon points="0.0,0.0 60.0,0.0 60.0,17.5 0.0,17.5" fill="#F9652E"/><polygon points="0.0,27.5 60.0,27.5 60.0,40.0 0.0,40.0" fill="#EC3E24"/><polygon points="40.0,0.0 60.0,0.0 60.0,19.0 44.0,19.0 41.0,14.0" fill="#FB7434"/><polygon points="14.9,21.3 15.9,20.9 16.5,23.7 16.4,27.0 15.7,27.2 15.2,24.3" fill="#fff" fill-opacity="0.85"/><polygon points="13.0,14.0 14.8,13.8 15.0,15.8 13.6,16.4" fill="#fff"/></g></g>
</g>
<g transform="translate(416.19,196.35)">
<rect x="0" y="0" width="56.00" height="8.45" fill="#FDE4CA" stroke="#c6c0b8" stroke-width="0.8"/>
<rect x="0" y="8.45" width="56.00" height="28.40" fill="#fff" stroke="#a6a6a6" stroke-width="1.1"/>
<text class="h" x="28.00" y="6.95" font-size="7.1" textLength="43.92" lengthAdjust="spacingAndGlyphs">2080s (RCP 85)</text>
<g filter="url(#rough)"><g clip-path="url(#m)"><rect x="0" y="0" width="56.0" height="36.85000000000002" fill="#BC0E2C"/><polygon points="0.0,0.0 60.0,0.0 60.0,17.5 0.0,17.5" fill="#C4122A"/><polygon points="0.0,27.5 60.0,27.5 60.0,40.0 0.0,40.0" fill="#AA0A2E"/><polygon points="40.0,0.0 60.0,0.0 60.0,19.0 44.0,19.0 41.0,14.0" fill="#DA2026"/><polygon points="14.9,21.3 15.9,20.9 16.5,23.7 16.4,27.0 15.7,27.2 15.2,24.3" fill="#fff" fill-opacity="0.85"/><polygon points="13.0,14.0 14.8,13.8 15.0,15.8 13.6,16.4" fill="#fff"/></g></g>
</g>
<g transform="translate(474.86,196.35)">
<rect x="0" y="0" width="56.00" height="8.45" fill="#FDE4CA" stroke="#c6c0b8" stroke-width="0.8"/>
<rect x="0" y="8.45" width="56.00" height="28.40" fill="#fff" stroke="#a6a6a6" stroke-width="1.1"/>
<text class="h" x="28.00" y="6.95" font-size="7.1" textLength="45.05" lengthAdjust="spacingAndGlyphs">2080s (SSP 585)</text>
<g filter="url(#rough)"><g clip-path="url(#m)"><rect x="0" y="0" width="56.0" height="36.85000000000002" fill="#D41C24"/><polygon points="0.0,0.0 60.0,0.0 60.0,17.5 0.0,17.5" fill="#E02822"/><polygon points="0.0,27.5 60.0,27.5 60.0,40.0 0.0,40.0" fill="#C0102A"/><polygon points="40.0,0.0 60.0,0.0 60.0,19.0 44.0,19.0 41.0,14.0" fill="#EC3A22"/><polygon points="14.9,21.3 15.9,20.9 16.5,23.7 16.4,27.0 15.7,27.2 15.2,24.3" fill="#fff" fill-opacity="0.85"/><polygon points="13.0,14.0 14.8,13.8 15.0,15.8 13.6,16.4" fill="#fff"/></g></g>
</g>
<rect x="532.4" y="196.75" width="5.4" height="36.65" fill="url(#g)" stroke="#bdbdbd" stroke-width="0.7"/>
<line x1="537.6" x2="538.8" y1="199.90" y2="199.90" stroke="#333" stroke-width="0.4"/>
<text class="k" x="540" y="201.80" font-size="5">10</text>
<line x1="537.6" x2="538.8" y1="204.39" y2="204.39" stroke="#333" stroke-width="0.4"/>
<text class="k" x="540" y="206.29" font-size="5">9</text>
<line x1="537.6" x2="538.8" y1="208.87" y2="208.87" stroke="#333" stroke-width="0.4"/>
<text class="k" x="540" y="210.77" font-size="5">8</text>
<line x1="537.6" x2="538.8" y1="213.36" y2="213.36" stroke="#333" stroke-width="0.4"/>
<text class="k" x="540" y="215.26" font-size="5">7</text>
<line x1="537.6" x2="538.8" y1="217.84" y2="217.84" stroke="#333" stroke-width="0.4"/>
<text class="k" x="540" y="219.74" font-size="5">6</text>
<line x1="537.6" x2="538.8" y1="222.33" y2="222.33" stroke="#333" stroke-width="0.4"/>
<text class="k" x="540" y="224.23" font-size="5">5</text>
<line x1="537.6" x2="538.8" y1="226.81" y2="226.81" stroke="#333" stroke-width="0.4"/>
<text class="k" x="540" y="228.71" font-size="5">4</text>
<line x1="537.6" x2="538.8" y1="231.30" y2="231.30" stroke="#333" stroke-width="0.4"/>
<text class="k" x="540" y="233.20" font-size="5">3</text>
<text class="t" x="4.1" y="249.00" font-size="8.45">(e) Annual Tmax (°C)</text>
<g transform="translate(5.50,257.15)">
<rect x="0" y="0" width="56.00" height="8.45" fill="#FDE4CA" stroke="#c6c0b8" stroke-width="0.8"/>
<rect x="0" y="8.45" width="56.00" height="28.50" fill="#fff" stroke="#a6a6a6" stroke-width="1.1"/>
<text class="h" x="28.00" y="6.95" font-size="7.1" textLength="23.82" lengthAdjust="spacingAndGlyphs">Baseline</text>
<g filter="url(#rough)"><g clip-path="url(#m)"><rect x="0" y="0" width="56.0" height="36.950000000000045" fill="#FDB04C"/><polygon points="0.0,0.0 24.5,0.0 24.5,20.0 23.0,40.0 0.0,40.0" fill="#FDBC58"/><polygon points="34.5,18.0 36.5,18.5 38.5,21.0 40.5,26.0 41.0,38.0 23.0,38.0 23.5,33.0 28.5,25.5" fill="#FCA444"/><polygon points="14.9,21.3 15.9,20.9 16.5,23.7 16.4,27.0 15.7,27.2 15.2,24.3" fill="#fff" fill-opacity="0.85"/><polygon points="13.0,14.0 14.8,13.8 15.0,15.8 13.6,16.4" fill="#fff"/></g></g>
</g>
<g transform="translate(64.17,257.15)">
<rect x="0" y="0" width="56.00" height="8.45" fill="#FDE4CA" stroke="#c6c0b8" stroke-width="0.8"/>
<rect x="0" y="8.45" width="56.00" height="28.50" fill="#fff" stroke="#a6a6a6" stroke-width="1.1"/>
<text class="h" x="28.00" y="6.95" font-size="7.1" textLength="43.92" lengthAdjust="spacingAndGlyphs">2060s (RCP 45)</text>
<g filter="url(#rough)"><g clip-path="url(#m)"><rect x="0" y="0" width="56.0" height="36.950000000000045" fill="#FC8838"/><polygon points="0.0,0.0 24.5,0.0 24.5,20.0 23.0,40.0 0.0,40.0" fill="#FD9A42"/><polygon points="34.5,18.0 36.5,18.5 38.5,21.0 40.5,26.0 41.0,38.0 23.0,38.0 23.5,33.0 28.5,25.5" fill="#F86E30"/><polygon points="14.9,21.3 15.9,20.9 16.5,23.7 16.4,27.0 15.7,27.2 15.2,24.3" fill="#fff" fill-opacity="0.85"/><polygon points="13.0,14.0 14.8,13.8 15.0,15.8 13.6,16.4" fill="#fff"/></g></g>
</g>
<g transform="translate(122.84,257.15)">
<rect x="0" y="0" width="56.00" height="8.45" fill="#FDE4CA" stroke="#c6c0b8" stroke-width="0.8"/>
<rect x="0" y="8.45" width="56.00" height="28.50" fill="#fff" stroke="#a6a6a6" stroke-width="1.1"/>
<text class="h" x="28.00" y="6.95" font-size="7.1" textLength="45.05" lengthAdjust="spacingAndGlyphs">2060s (SSP 245)</text>
<g filter="url(#rough)"><g clip-path="url(#m)"><rect x="0" y="0" width="56.0" height="36.950000000000045" fill="#FEE296"/><polygon points="0.0,0.0 24.5,0.0 24.5,20.0 23.0,40.0 0.0,40.0" fill="#FEEAAA"/><polygon points="38.5,18.0 60.0,18.0 60.0,40.0 40.0,40.0" fill="#FED680"/><polygon points="40.0,0.0 60.0,0.0 60.0,19.0 44.0,19.0 41.0,14.0" fill="#FED680"/><polygon points="14.9,21.3 15.9,20.9 16.5,23.7 16.4,27.0 15.7,27.2 15.2,24.3" fill="#fff" fill-opacity="0.85"/><polygon points="13.0,14.0 14.8,13.8 15.0,15.8 13.6,16.4" fill="#fff"/></g></g>
</g>
<g transform="translate(181.51,257.15)">
<rect x="0" y="0" width="56.00" height="8.45" fill="#FDE4CA" stroke="#c6c0b8" stroke-width="0.8"/>
<rect x="0" y="8.45" width="56.00" height="28.50" fill="#fff" stroke="#a6a6a6" stroke-width="1.1"/>
<text class="h" x="28.00" y="6.95" font-size="7.1" textLength="43.92" lengthAdjust="spacingAndGlyphs">2060s (RCP 85)</text>
<g filter="url(#rough)"><g clip-path="url(#m)"><rect x="0" y="0" width="56.0" height="36.950000000000045" fill="#FA7634"/><polygon points="0.0,0.0 24.5,0.0 24.5,20.0 23.0,40.0 0.0,40.0" fill="#FC8A3A"/><polygon points="34.5,18.0 36.5,18.5 38.5,21.0 40.5,26.0 41.0,38.0 23.0,38.0 23.5,33.0 28.5,25.5" fill="#F66030"/><polygon points="14.9,21.3 15.9,20.9 16.5,23.7 16.4,27.0 15.7,27.2 15.2,24.3" fill="#fff" fill-opacity="0.85"/><polygon points="13.0,14.0 14.8,13.8 15.0,15.8 13.6,16.4" fill="#fff"/></g></g>
</g>
<g transform="translate(240.18,257.15)">
<rect x="0" y="0" width="56.00" height="8.45" fill="#FDE4CA" stroke="#c6c0b8" stroke-width="0.8"/>
<rect x="0" y="8.45" width="56.00" height="28.50" fill="#fff" stroke="#a6a6a6" stroke-width="1.1"/>
<text class="h" x="28.00" y="6.95" font-size="7.1" textLength="45.05" lengthAdjust="spacingAndGlyphs">2060s (SSP 585)</text>
<g filter="url(#rough)"><g clip-path="url(#m)"><rect x="0" y="0" width="56.0" height="36.950000000000045" fill="#F4582A"/><polygon points="0.0,0.0 24.5,0.0 24.5,20.0 23.0,40.0 0.0,40.0" fill="#F8702F"/><polygon points="34.5,18.0 36.5,18.5 38.5,21.0 40.5,26.0 41.0,38.0 23.0,38.0 23.5,33.0 28.5,25.5" fill="#EE4826"/><polygon points="14.9,21.3 15.9,20.9 16.5,23.7 16.4,27.0 15.7,27.2 15.2,24.3" fill="#fff" fill-opacity="0.85"/><polygon points="13.0,14.0 14.8,13.8 15.0,15.8 13.6,16.4" fill="#fff"/></g></g>
</g>
<g transform="translate(298.85,257.15)">
<rect x="0" y="0" width="56.00" height="8.45" fill="#FDE4CA" stroke="#c6c0b8" stroke-width="0.8"/>
<rect x="0" y="8.45" width="56.00" height="28.50" fill="#fff" stroke="#a6a6a6" stroke-width="1.1"/>
<text class="h" x="28.00" y="6.95" font-size="7.1" textLength="43.92" lengthAdjust="spacingAndGlyphs">2080s (RCP 45)</text>
<g filter="url(#rough)"><g clip-path="url(#m)"><rect x="0" y="0" width="56.0" height="36.950000000000045" fill="#F4562A"/><polygon points="0.0,0.0 24.5,0.0 24.5,20.0 23.0,40.0 0.0,40.0" fill="#F8702F"/><polygon points="34.5,18.0 36.5,18.5 38.5,21.0 40.5,26.0 41.0,38.0 23.0,38.0 23.5,33.0 28.5,25.5" fill="#EC4024"/><polygon points="14.9,21.3 15.9,20.9 16.5,23.7 16.4,27.0 15.7,27.2 15.2,24.3" fill="#fff" fill-opacity="0.85"/><polygon points="13.0,14.0 14.8,13.8 15.0,15.8 13.6,16.4" fill="#fff"/></g></g>
</g>
<g transform="translate(357.52,257.15)">
<rect x="0" y="0" width="56.00" height="8.45" fill="#FDE4CA" stroke="#c6c0b8" stroke-width="0.8"/>
<rect x="0" y="8.45" width="56.00" height="28.50" fill="#fff" stroke="#a6a6a6" stroke-width="1.1"/>
<text class="h" x="28.00" y="6.95" font-size="7.1" textLength="45.05" lengthAdjust="spacingAndGlyphs">2080s (SSP 245)</text>
<g filter="url(#rough)"><g clip-path="url(#m)"><rect x="0" y="0" width="56.0" height="36.950000000000045" fill="#FDC060"/><polygon points="0.0,0.0 24.5,0.0 24.5,20.0 23.0,40.0 0.0,40.0" fill="#FED286"/><polygon points="38.5,18.0 60.0,18.0 60.0,40.0 40.0,40.0" fill="#FDB850"/><polygon points="34.5,18.0 36.5,18.5 38.5,21.0 40.5,26.0 41.0,38.0 23.0,38.0 23.5,33.0 28.5,25.5" fill="#FDB850"/><polygon points="40.0,0.0 60.0,0.0 60.0,19.0 44.0,19.0 41.0,14.0" fill="#FDB850"/><polygon points="14.9,21.3 15.9,20.9 16.5,23.7 16.4,27.0 15.7,27.2 15.2,24.3" fill="#fff" fill-opacity="0.85"/><polygon points="13.0,14.0 14.8,13.8 15.0,15.8 13.6,16.4" fill="#fff"/></g></g>
</g>
<g transform="translate(416.19,257.15)">
<rect x="0" y="0" width="56.00" height="8.45" fill="#FDE4CA" stroke="#c6c0b8" stroke-width="0.8"/>
<rect x="0" y="8.45" width="56.00" height="28.50" fill="#fff" stroke="#a6a6a6" stroke-width="1.1"/>
<text class="h" x="28.00" y="6.95" font-size="7.1" textLength="43.92" lengthAdjust="spacingAndGlyphs">2080s (RCP 85)</text>
<g filter="url(#rough)"><g clip-path="url(#m)"><rect x="0" y="0" width="56.0" height="36.950000000000045" fill="#C8102A"/><polygon points="0.0,0.0 24.5,0.0 24.5,20.0 23.0,40.0 0.0,40.0" fill="#D41824"/><polygon points="34.5,18.0 36.5,18.5 38.5,21.0 40.5,26.0 41.0,38.0 23.0,38.0 23.5,33.0 28.5,25.5" fill="#BE0E2C"/><polygon points="14.9,21.3 15.9,20.9 16.5,23.7 16.4,27.0 15.7,27.2 15.2,24.3" fill="#fff" fill-opacity="0.85"/><polygon points="13.0,14.0 14.8,13.8 15.0,15.8 13.6,16.4" fill="#fff"/></g></g>
</g>
<g transform="translate(474.86,257.15)">
<rect x="0" y="0" width="56.00" height="8.45" fill="#FDE4CA" stroke="#c6c0b8" stroke-width="0.8"/>
<rect x="0" y="8.45" width="56.00" height="28.50" fill="#fff" stroke="#a6a6a6" stroke-width="1.1"/>
<text class="h" x="28.00" y="6.95" font-size="7.1" textLength="45.05" lengthAdjust="spacingAndGlyphs">2080s (SSP 585)</text>
<g filter="url(#rough)"><g clip-path="url(#m)"><rect x="0" y="0" width="56.0" height="36.950000000000045" fill="#C0102A"/><polygon points="0.0,0.0 24.5,0.0 24.5,20.0 23.0,40.0 0.0,40.0" fill="#CC1628"/><polygon points="34.5,18.0 36.5,18.5 38.5,21.0 40.5,26.0 41.0,38.0 23.0,38.0 23.5,33.0 28.5,25.5" fill="#B00A2E"/><polygon points="14.9,21.3 15.9,20.9 16.5,23.7 16.4,27.0 15.7,27.2 15.2,24.3" fill="#fff" fill-opacity="0.85"/><polygon points="13.0,14.0 14.8,13.8 15.0,15.8 13.6,16.4" fill="#fff"/></g></g>
</g>
<rect x="532.4" y="257.55" width="5.4" height="36.75" fill="url(#g)" stroke="#bdbdbd" stroke-width="0.7"/>
<line x1="537.6" x2="538.8" y1="259.10" y2="259.10" stroke="#333" stroke-width="0.4"/>
<text class="k" x="540" y="261.00" font-size="5" style="fill:#555">23</text>
<line x1="537.6" x2="538.8" y1="263.21" y2="263.21" stroke="#333" stroke-width="0.4"/>
<text class="k" x="540" y="265.11" font-size="5" style="fill:#555">22</text>
<line x1="537.6" x2="538.8" y1="267.32" y2="267.32" stroke="#333" stroke-width="0.4"/>
<text class="k" x="540" y="269.22" font-size="5" style="fill:#555">21</text>
<line x1="537.6" x2="538.8" y1="271.44" y2="271.44" stroke="#333" stroke-width="0.4"/>
<text class="k" x="540" y="273.34" font-size="5" style="fill:#555">20</text>
<line x1="537.6" x2="538.8" y1="275.55" y2="275.55" stroke="#333" stroke-width="0.4"/>
<text class="k" x="540" y="277.45" font-size="5" style="fill:#555">19</text>
<line x1="537.6" x2="538.8" y1="279.66" y2="279.66" stroke="#333" stroke-width="0.4"/>
<text class="k" x="540" y="281.56" font-size="5" style="fill:#555">18</text>
<line x1="537.6" x2="538.8" y1="283.77" y2="283.77" stroke="#333" stroke-width="0.4"/>
<text class="k" x="540" y="285.67" font-size="5" style="fill:#555">17</text>
<line x1="537.6" x2="538.8" y1="287.89" y2="287.89" stroke="#333" stroke-width="0.4"/>
<text class="k" x="540" y="289.79" font-size="5" style="fill:#555">16</text>
<line x1="537.6" x2="538.8" y1="292.00" y2="292.00" stroke="#333" stroke-width="0.4"/>
<text class="k" x="540" y="293.90" font-size="5" style="fill:#555">15</text>
</svg></body></html>
